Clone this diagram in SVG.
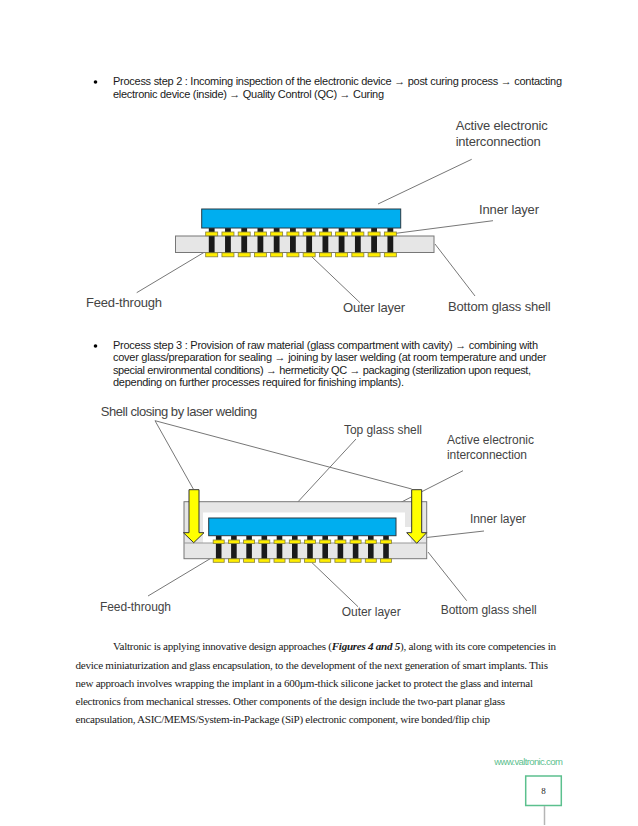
<svg xmlns="http://www.w3.org/2000/svg" width="638" height="826" viewBox="0 0 638 826">
<defs>
<style>
.b{font:11px "Liberation Sans",Arial,sans-serif;fill:#1a1a1a}
.s{font:11.100px "Liberation Serif","Times New Roman",serif;fill:#1a1a1a}
.l{font:13px "Liberation Sans",Arial,sans-serif;fill:#444}
.m{font:12px "Liberation Sans",Arial,sans-serif;fill:#444}
.ln{stroke:#777;stroke-width:1;fill:none}
.glass{fill:#e6e6e6;stroke:#777;stroke-width:1}
.blue{fill:#00aeef;stroke:#2a3a44;stroke-width:1}
.pad{fill:#ffee00;stroke:#85803a;stroke-width:.8}
.post{fill:#1a1a1a}
.arrow{fill:#ffff00;stroke:#333;stroke-width:1}
</style>
<g id="fig1cell"><rect class="post" x="-2.900" y="228" width="5.800" height="26"/><rect class="pad" x="-6" y="232" width="12" height="3.800"/><rect class="pad" x="-6" y="252.800" width="12" height="4"/></g>
<g id="fig2cell"><rect class="post" x="-2.800" y="535.500" width="5.600" height="25"/><rect class="pad" x="-5.500" y="540" width="11" height="3.500"/><rect class="pad" x="-5.500" y="558.800" width="11" height="3.500"/></g>
</defs>
<rect width="638" height="826" fill="#fff"/>
<g id="page-text">
<circle cx="95.500" cy="82" r="1.800" fill="#000"/>
<text class="b" x="113" y="85" textLength="449">Process step 2 : Incoming inspection of the electronic device → post curing process → contacting</text>
<text class="b" x="113" y="97.500" textLength="271">electronic device (inside) → Quality Control (QC) → Curing</text>
<circle cx="95.500" cy="346" r="1.800" fill="#000"/>
<text class="b" x="113" y="349" textLength="425">Process step 3 : Provision of raw material (glass compartment with cavity) → combining with</text>
<text class="b" x="113" y="361.300" textLength="433.500">cover glass/preparation for sealing → joining by laser welding (at room temperature and under</text>
<text class="b" x="113" y="373.500" textLength="418">special environmental conditions) → hermeticity QC → packaging (sterilization upon request,</text>
<text class="b" x="113" y="385.500" textLength="291">depending on further processes required for finishing implants).</text>
<text class="s" x="113" y="650" textLength="443">Valtronic is applying innovative design approaches (<tspan font-weight="bold" font-style="italic">Figures 4 and 5</tspan>), along with its core competencies in</text>
<text class="s" x="75.500" y="668.500" textLength="472.500">device miniaturization and glass encapsulation, to the development of the next generation of smart implants. This</text>
<text class="s" x="75.500" y="686.800" textLength="457.500">new approach involves wrapping the implant in a 600µm-thick silicone jacket to protect the glass and internal</text>
<text class="s" x="75.500" y="705" textLength="429.500">electronics from mechanical stresses. Other components of the design include the two-part planar glass</text>
<text class="s" x="75.500" y="723.300" textLength="414.500">encapsulation, ASIC/MEMS/System-in-Package (SiP) electronic component, wire bonded/flip chip</text>
<text x="494.300" y="764.700" textLength="68.500" style="font:9.500px 'Liberation Sans',Arial,sans-serif;fill:#5cc08e">www.valtronic.com</text>
</g>
<g id="page-number">
<rect x="525.700" y="776" width="35.600" height="29.500" fill="#fff" stroke="#5cc08e" stroke-width="1.500"/>
<text x="543.500" y="794" text-anchor="middle" style="font:9px 'Liberation Serif',serif;fill:#222">8</text>
<line x1="544.500" y1="806" x2="544.500" y2="825" stroke="#b5b5b5" stroke-width="1.500"/>
</g>
<g id="connectors">
<line class="ln" x1="378" y1="204" x2="471.700" y2="159.300"/>
<line class="ln" x1="396" y1="233.300" x2="493" y2="220.700"/>
<line class="ln" x1="435" y1="244" x2="475" y2="296"/>
<line class="ln" x1="208" y1="250" x2="136.700" y2="292.700"/>
<line class="ln" x1="311.700" y1="256.700" x2="360" y2="302.700"/>
<line class="ln" x1="155" y1="420.700" x2="193.300" y2="489"/>
<line class="ln" x1="155" y1="420.700" x2="411.700" y2="489"/>
<line class="ln" x1="295" y1="505" x2="356" y2="439"/>
<line class="ln" x1="373" y1="516.500" x2="463" y2="470.700"/>
<line class="ln" x1="391" y1="541.500" x2="484" y2="531"/>
<line class="ln" x1="428" y1="552" x2="466.700" y2="600.700"/>
<line class="ln" x1="213" y1="557" x2="148" y2="596"/>
<line class="ln" x1="312" y1="562.700" x2="358" y2="606.700"/>
</g>
<g id="figure-1-assembly">
<rect class="glass" x="175.500" y="236" width="258.500" height="16.500"/>
<use href="#fig1cell" x="211.700"/><use href="#fig1cell" x="227.950"/><use href="#fig1cell" x="244.200"/><use href="#fig1cell" x="260.400"/><use href="#fig1cell" x="276.650"/><use href="#fig1cell" x="292.900"/><use href="#fig1cell" x="309.150"/><use href="#fig1cell" x="325.400"/><use href="#fig1cell" x="341.600"/><use href="#fig1cell" x="357.850"/><use href="#fig1cell" x="374.100"/><use href="#fig1cell" x="390.350"/>
<rect class="blue" x="201.700" y="209" width="199" height="19"/>
</g>
<g id="figure-2-assembly">
<rect class="glass" x="184" y="501.700" width="242.700" height="57"/>
<path d="M203 512.500H405V527H411V543H203Z" fill="#fff"/>
<line x1="184" y1="543" x2="426" y2="543" stroke="#999"/>
<use href="#fig2cell" x="218.700"/><use href="#fig2cell" x="233.900"/><use href="#fig2cell" x="249.100"/><use href="#fig2cell" x="264.300"/><use href="#fig2cell" x="279.500"/><use href="#fig2cell" x="294.800"/><use href="#fig2cell" x="310"/><use href="#fig2cell" x="325.200"/><use href="#fig2cell" x="340.400"/><use href="#fig2cell" x="355.600"/><use href="#fig2cell" x="370.800"/><use href="#fig2cell" x="386"/>
<rect class="blue" x="208.700" y="518" width="187.300" height="17.700"/>
<path class="arrow" d="M189 489.700H199V532.700H204L193.700 542.700L183.400 532.700H189Z"/>
<path class="arrow" d="M411.700 489.700H421.700V532.700H426.700L416.700 543.300L406.700 532.700H411.700Z"/>
</g>
<g id="labels">
<text class="l" x="455.700" y="130" textLength="92">Active electronic</text>
<text class="l" x="455.700" y="146" textLength="85">interconnection</text>
<text class="l" x="479" y="213.500" textLength="60">Inner layer</text>
<text class="l" x="86" y="306.700" textLength="76">Feed-through</text>
<text class="l" x="343" y="312" textLength="62">Outer layer</text>
<text class="l" x="448" y="311" textLength="102.700">Bottom glass shell</text>
<text class="l" x="100.700" y="415.700" textLength="156.500">Shell closing by laser welding</text>
<text class="m" x="344" y="434" textLength="78">Top glass shell</text>
<text class="m" x="447" y="444" textLength="87">Active electronic</text>
<text class="m" x="447" y="459" textLength="80">interconnection</text>
<text class="m" x="470" y="523" textLength="56">Inner layer</text>
<text class="m" x="100" y="610.700" textLength="71">Feed-through</text>
<text class="m" x="341.700" y="615.700" textLength="59">Outer layer</text>
<text class="m" x="440.700" y="614" textLength="96">Bottom glass shell</text>
</g>
</svg>
